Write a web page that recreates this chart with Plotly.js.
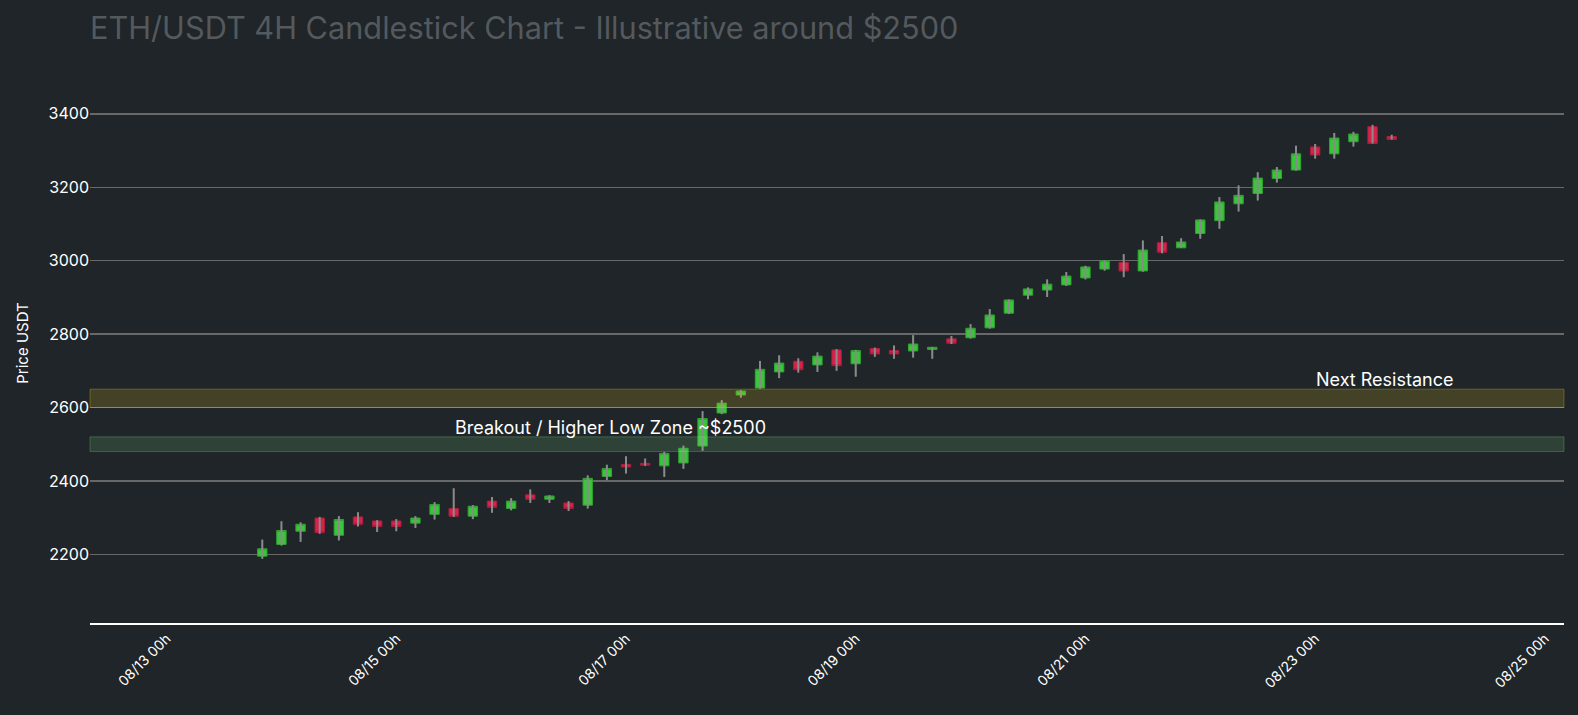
<!DOCTYPE html>
<html>
<head>
<meta charset="utf-8">
<script src="https://cdn.plot.ly/plotly-3.0.1.min.js"></script>
<style>
  html, body { margin: 0; padding: 0; background: #1f2528; }
  #chart { width: 1578px; height: 715px; }
</style>
</head>
<body>
<div id="chart"></div>
<script>
// 4H candles, 08/13 20h .. 08/23 16h
const times = [
  '2024-08-13 20:00',
  '2024-08-14 00:00', '2024-08-14 04:00', '2024-08-14 08:00', '2024-08-14 12:00', '2024-08-14 16:00', '2024-08-14 20:00',
  '2024-08-15 00:00', '2024-08-15 04:00', '2024-08-15 08:00', '2024-08-15 12:00', '2024-08-15 16:00', '2024-08-15 20:00',
  '2024-08-16 00:00', '2024-08-16 04:00', '2024-08-16 08:00', '2024-08-16 12:00', '2024-08-16 16:00', '2024-08-16 20:00',
  '2024-08-17 00:00', '2024-08-17 04:00', '2024-08-17 08:00', '2024-08-17 12:00', '2024-08-17 16:00', '2024-08-17 20:00',
  '2024-08-18 00:00', '2024-08-18 04:00', '2024-08-18 08:00', '2024-08-18 12:00', '2024-08-18 16:00', '2024-08-18 20:00',
  '2024-08-19 00:00', '2024-08-19 04:00', '2024-08-19 08:00', '2024-08-19 12:00', '2024-08-19 16:00', '2024-08-19 20:00',
  '2024-08-20 00:00', '2024-08-20 04:00', '2024-08-20 08:00', '2024-08-20 12:00', '2024-08-20 16:00', '2024-08-20 20:00',
  '2024-08-21 00:00', '2024-08-21 04:00', '2024-08-21 08:00', '2024-08-21 12:00', '2024-08-21 16:00', '2024-08-21 20:00',
  '2024-08-22 00:00', '2024-08-22 04:00', '2024-08-22 08:00', '2024-08-22 12:00', '2024-08-22 16:00', '2024-08-22 20:00',
  '2024-08-23 00:00', '2024-08-23 04:00', '2024-08-23 08:00', '2024-08-23 12:00', '2024-08-23 16:00'
];

const open = [
  2195, 2227, 2263, 2299, 2252, 2302, 2291, 2291, 2285, 2309,
  2325, 2304, 2345, 2325, 2362, 2350, 2340, 2334, 2412, 2445,
  2448, 2441, 2449, 2495, 2585, 2634, 2653, 2697, 2726, 2716,
  2757, 2719, 2761, 2755, 2754, 2758, 2787, 2790, 2817, 2857,
  2906, 2920, 2934, 2953, 2977, 2995, 2972, 3049, 3035, 3074,
  3109, 3155, 3183, 3224, 3247, 3310, 3291, 3324, 3365, 3338
];
const high = [
  2240, 2290, 2287, 2302, 2304, 2315, 2293, 2296, 2304, 2342,
  2380, 2334, 2356, 2353, 2377, 2361, 2345, 2415, 2444, 2467,
  2461, 2479, 2496, 2590, 2620, 2647, 2727, 2742, 2734, 2750,
  2759, 2757, 2763, 2769, 2797, 2765, 2795, 2827, 2868, 2894,
  2927, 2949, 2969, 2986, 3001, 3018, 3055, 3067, 3061, 3112,
  3173, 3205, 3241, 3255, 3313, 3318, 3348, 3351, 3370, 3343
];
const low = [
  2188, 2224, 2234, 2256, 2238, 2276, 2261, 2263, 2272, 2295,
  2302, 2296, 2313, 2320, 2340, 2340, 2318, 2325, 2402, 2420,
  2441, 2411, 2433, 2482, 2582, 2627, 2651, 2680, 2695, 2697,
  2700, 2684, 2738, 2733, 2736, 2733, 2773, 2788, 2815, 2855,
  2895, 2901, 2931, 2949, 2973, 2955, 2970, 3020, 3035, 3060,
  3087, 3134, 3164, 3213, 3245, 3278, 3278, 3311, 3319, 3330
];
const close = [
  2215, 2265, 2282, 2259, 2295, 2282, 2276, 2276, 2299, 2336,
  2304, 2331, 2328, 2345, 2350, 2359, 2325, 2407, 2434, 2438,
  2443, 2475, 2489, 2570, 2612, 2645, 2704, 2721, 2703, 2740,
  2714, 2755, 2746, 2746, 2773, 2764, 2775, 2816, 2852, 2893,
  2923, 2936, 2958, 2983, 3000, 2972, 3029, 3023, 3051, 3111,
  3160, 3178, 3225, 3247, 3291, 3288, 3334, 3345, 3319, 3330
];

// price zones
const supportZone = [2480, 2520];
const resistanceZone = [2600, 2650];

const GREEN = '#3cc43c';
const RED = '#d4244c';
const WICK = '#8a8a8a';
const FONT = 'Inter, "Noto Sans", sans-serif';

const bodies = {
  type: 'candlestick',
  x: times, open: open, high: high, low: low, close: close,
  increasing: { line: { color: '#2fa52f', width: 1 }, fillcolor: GREEN },
  decreasing: { line: { color: '#b01c3e', width: 1 }, fillcolor: RED },
  hoverinfo: 'skip',
  showlegend: false
};

// grey wicks drawn over the bodies
const wicks = {
  type: 'ohlc',
  x: times, open: open, high: high, low: low, close: close,
  tickwidth: 0,
  increasing: { line: { color: WICK, width: 2 } },
  decreasing: { line: { color: WICK, width: 2 } },
  showlegend: false
};

const DAY = 24 * 3600 * 1000;
const t0 = new Date(times[0].replace(' ', 'T') + 'Z').getTime();
const t1 = new Date(times[times.length - 1].replace(' ', 'T') + 'Z').getTime();
const iso = ms => new Date(ms).toISOString().slice(0, 19).replace('T', ' ');

const yMin = Math.min(...low) * 0.92;
const yMax = Math.max(...high) * 1.05;

const layout = {
  width: 1578,
  height: 715,
  paper_bgcolor: '#1f2528',
  plot_bgcolor: '#1f2528',
  font: { family: FONT, color: '#ffffff', size: 14 },
  margin: { l: 90, r: 14, t: 63, b: 92 },
  title: {
    text: 'ETH/USDT 4H Candlestick Chart - Illustrative around $2500',
    font: { family: FONT, size: 30.7, color: '#54595d' },
    x: 0, xref: 'paper', xanchor: 'left',
    y: 0.96, yref: 'container', yanchor: 'middle'
  },
  showlegend: false,
  xaxis: {
    type: 'date',
    range: [iso(t0 - 1.5 * DAY), iso(t1 + 1.5 * DAY)],
    rangeslider: { visible: false },
    tick0: '2024-08-13 00:00',
    dtick: 2 * DAY,
    tickformat: '%m/%d %Hh',
    tickangle: -45,
    tickfont: { size: 14, color: '#ffffff' },
    showgrid: false,
    zeroline: false,
    showline: true,
    linecolor: '#ffffff',
    linewidth: 2
  },
  yaxis: {
    title: { text: 'Price USDT', font: { size: 15, color: '#ffffff' }, standoff: 16 },
    automargin: true,
    range: [yMin, yMax],
    dtick: 200,
    tickfont: { size: 16, color: '#ffffff' },
    gridcolor: '#686868',
    gridwidth: 1.5,
    zeroline: false,
    showline: false
  },
  shapes: [
    {
      type: 'rect', xref: 'paper', yref: 'y', layer: 'above',
      x0: 0, x1: 1, y0: supportZone[0], y1: supportZone[1],
      fillcolor: 'rgba(144, 238, 144, 0.15)',
      line: { color: 'rgba(144, 238, 144, 0.25)', width: 1 }
    },
    {
      type: 'rect', xref: 'paper', yref: 'y', layer: 'above',
      x0: 0, x1: 1, y0: resistanceZone[0], y1: resistanceZone[1],
      fillcolor: 'rgba(255, 215, 40, 0.16)',
      line: { color: 'rgba(255, 215, 40, 0.28)', width: 1 }
    }
  ],
  annotations: [
    {
      x: times[18], y: supportZone[1], xref: 'x', yref: 'y',
      text: 'Breakout / Higher Low Zone ~$2500',
      showarrow: false, xanchor: 'center', yanchor: 'bottom', xshift: 4, yshift: -3,
      font: { size: 18, color: '#ffffff' }
    },
    {
      x: times[times.length - 1], y: resistanceZone[1], xref: 'x', yref: 'y',
      text: 'Next Resistance',
      showarrow: false, xanchor: 'center', yanchor: 'bottom', xshift: -7, yshift: -3,
      font: { size: 18, color: '#ffffff' }
    }
  ]
};

Plotly.newPlot('chart', [bodies, wicks], layout, { displayModeBar: false, staticPlot: true });
</script>
</body>
</html>
